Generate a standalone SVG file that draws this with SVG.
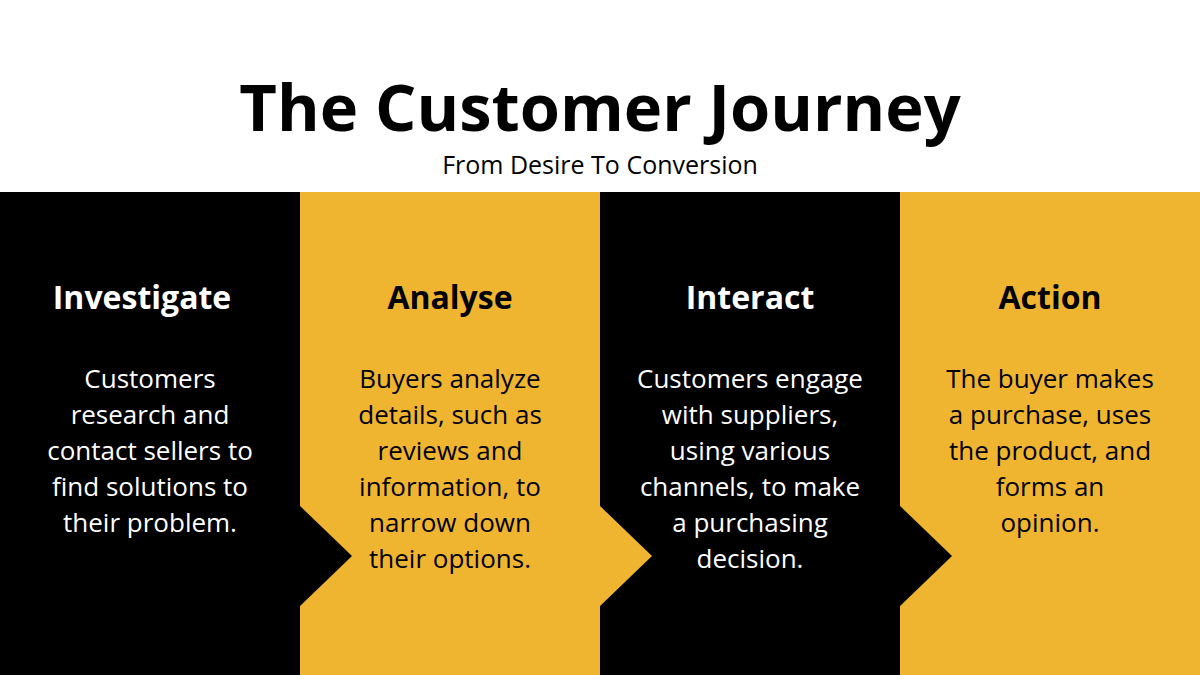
<svg xmlns="http://www.w3.org/2000/svg" width="1200" height="675" viewBox="0 0 1200 675">
<style>
.t{font-family:"Open Sans","Liberation Sans",sans-serif;text-anchor:middle}
.h{font-size:32px;font-weight:700}
.b{font-size:26px}
.w{fill:#fff}.k{fill:#000}
</style>
<rect width="1200" height="675" fill="#fff"/>
<text class="t k" x="600" y="131" font-size="65" font-weight="700">The Customer Journey</text>
<text class="t k" x="600" y="174" font-size="25">From Desire To Conversion</text>
<g id="investigate">
<rect x="0" y="192" width="300" height="483" fill="#000"/>
<text class="t h w" x="142" y="309">Investigate</text>
<text class="t b w" x="150" y="388">Customers<tspan x="150" dy="36">research and</tspan><tspan x="150" dy="36">contact sellers to</tspan><tspan x="150" dy="36">find solutions to</tspan><tspan x="150" dy="36">their problem.</tspan></text>
</g>
<g id="analyse">
<rect x="300" y="192" width="300" height="483" fill="#F0B530"/>
<text class="t h k" x="450" y="309">Analyse</text>
<text class="t b k" x="450" y="388">Buyers analyze<tspan x="450" dy="36">details, such as</tspan><tspan x="450" dy="36">reviews and</tspan><tspan x="450" dy="36">information, to</tspan><tspan x="450" dy="36">narrow down</tspan><tspan x="450" dy="36">their options.</tspan></text>
</g>
<g id="interact">
<rect x="600" y="192" width="300" height="483" fill="#000"/>
<text class="t h w" x="750" y="309">Interact</text>
<text class="t b w" x="750" y="388">Customers engage<tspan x="750" dy="36">with suppliers,</tspan><tspan x="750" dy="36">using various</tspan><tspan x="750" dy="36">channels, to make</tspan><tspan x="750" dy="36">a purchasing</tspan><tspan x="750" dy="36">decision.</tspan></text>
</g>
<g id="action">
<rect x="900" y="192" width="300" height="483" fill="#F0B530"/>
<text class="t h k" x="1050" y="309">Action</text>
<text class="t b k" x="1050" y="388">The buyer makes<tspan x="1050" dy="36">a purchase, uses</tspan><tspan x="1050" dy="36">the product, and</tspan><tspan x="1050" dy="36">forms an</tspan><tspan x="1050" dy="36">opinion.</tspan></text>
</g>
<g id="connectors">
<polygon points="299,505 352,556 299,607" fill="#000"/>
<polygon points="599,505 652,556 599,607" fill="#F0B530"/>
<polygon points="899,505 952,556 899,607" fill="#000"/>
</g>
</svg>
